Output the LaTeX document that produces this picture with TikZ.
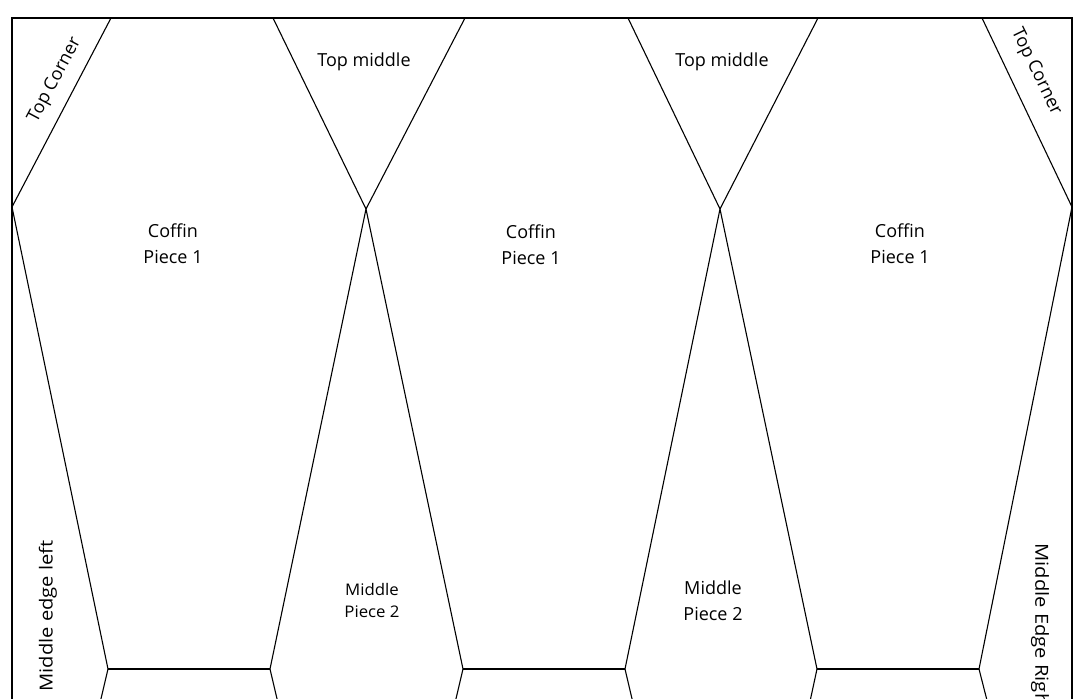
\documentclass[tikz,border=0pt]{standalone}
\usepackage{fontspec}
\setmainfont{Open Sans}
\begin{document}
\begin{tikzpicture}[x=1pt,y=-1pt,line width=1.1pt,
  lbl/.style={font=\fontsize{18}{26}\selectfont,align=center,inner sep=0pt},
  ln/.style={line width=1.1pt}]
\useasboundingbox (0,0) rectangle (1080,699);
\begin{scope}
\clip (0,0) rectangle (1080,699);
% frame
\draw[line width=1.3pt] (12,720) -- (12,18) -- (1072,18) -- (1072,720);
% named coordinates
\coordinate (L) at (12,207);
\coordinate (X1) at (366,209);
\coordinate (X2) at (720,209);
\coordinate (R) at (1072,207);
\coordinate (a1) at (108,669); \coordinate (b1) at (270,669);
\coordinate (a2) at (463,669); \coordinate (b2) at (625,669);
\coordinate (a3) at (817,669); \coordinate (b3) at (979,669);
% top triangles
\draw (111,18) -- (L);
\draw (273,18) -- (X1) -- (465,18);
\draw (628,18) -- (X2) -- (818,18);
\draw (982,18) -- (R);
% coffins
\draw (L) -- (a1) -- (b1) -- (X1) -- (a2) -- (b2) -- (X2) -- (a3) -- (b3) -- (R);
\draw[line width=1.4pt] (a1) -- (b1) (a2) -- (b2) (a3) -- (b3);
% lower
\draw (a1) -- (96,720) (b1) -- (282,720);
\draw (a2) -- (451,720) (b2) -- (637,720);
\draw (a3) -- (806,720) (b3) -- (992,720);
% labels
\node[lbl,rotate=62] (tcl) at (55,80) {Top Corner};
\node[lbl,rotate=-64] (tcr) at (1036,72) {Top Corner};
\node[lbl] (tm1) at (364,62) {Top middle};
\node[lbl] (tm2) at (722,62) {Top middle};
\node[lbl] (c1) at (173,244) {Coffin\\Piece 1};
\node[lbl] (c2) at (531,245) {Coffin\\Piece 1};
\node[lbl] (c3) at (900,244) {Coffin\\Piece 1};
\node[lbl,font=\fontsize{16}{22}\selectfont,xscale=1.05] (m1) at (372,600) {Middle\\Piece 2};
\node[lbl] (m2) at (713,601) {Middle\\Piece 2};
\node[lbl,rotate=90,anchor=west,xscale=1.12] (mel) at (48,692) {Middle edge left};
\node[lbl,rotate=-90,anchor=west,xscale=1.12] (mer) at (1040,543) {Middle Edge Right};
\end{scope}
\end{tikzpicture}
\end{document}
